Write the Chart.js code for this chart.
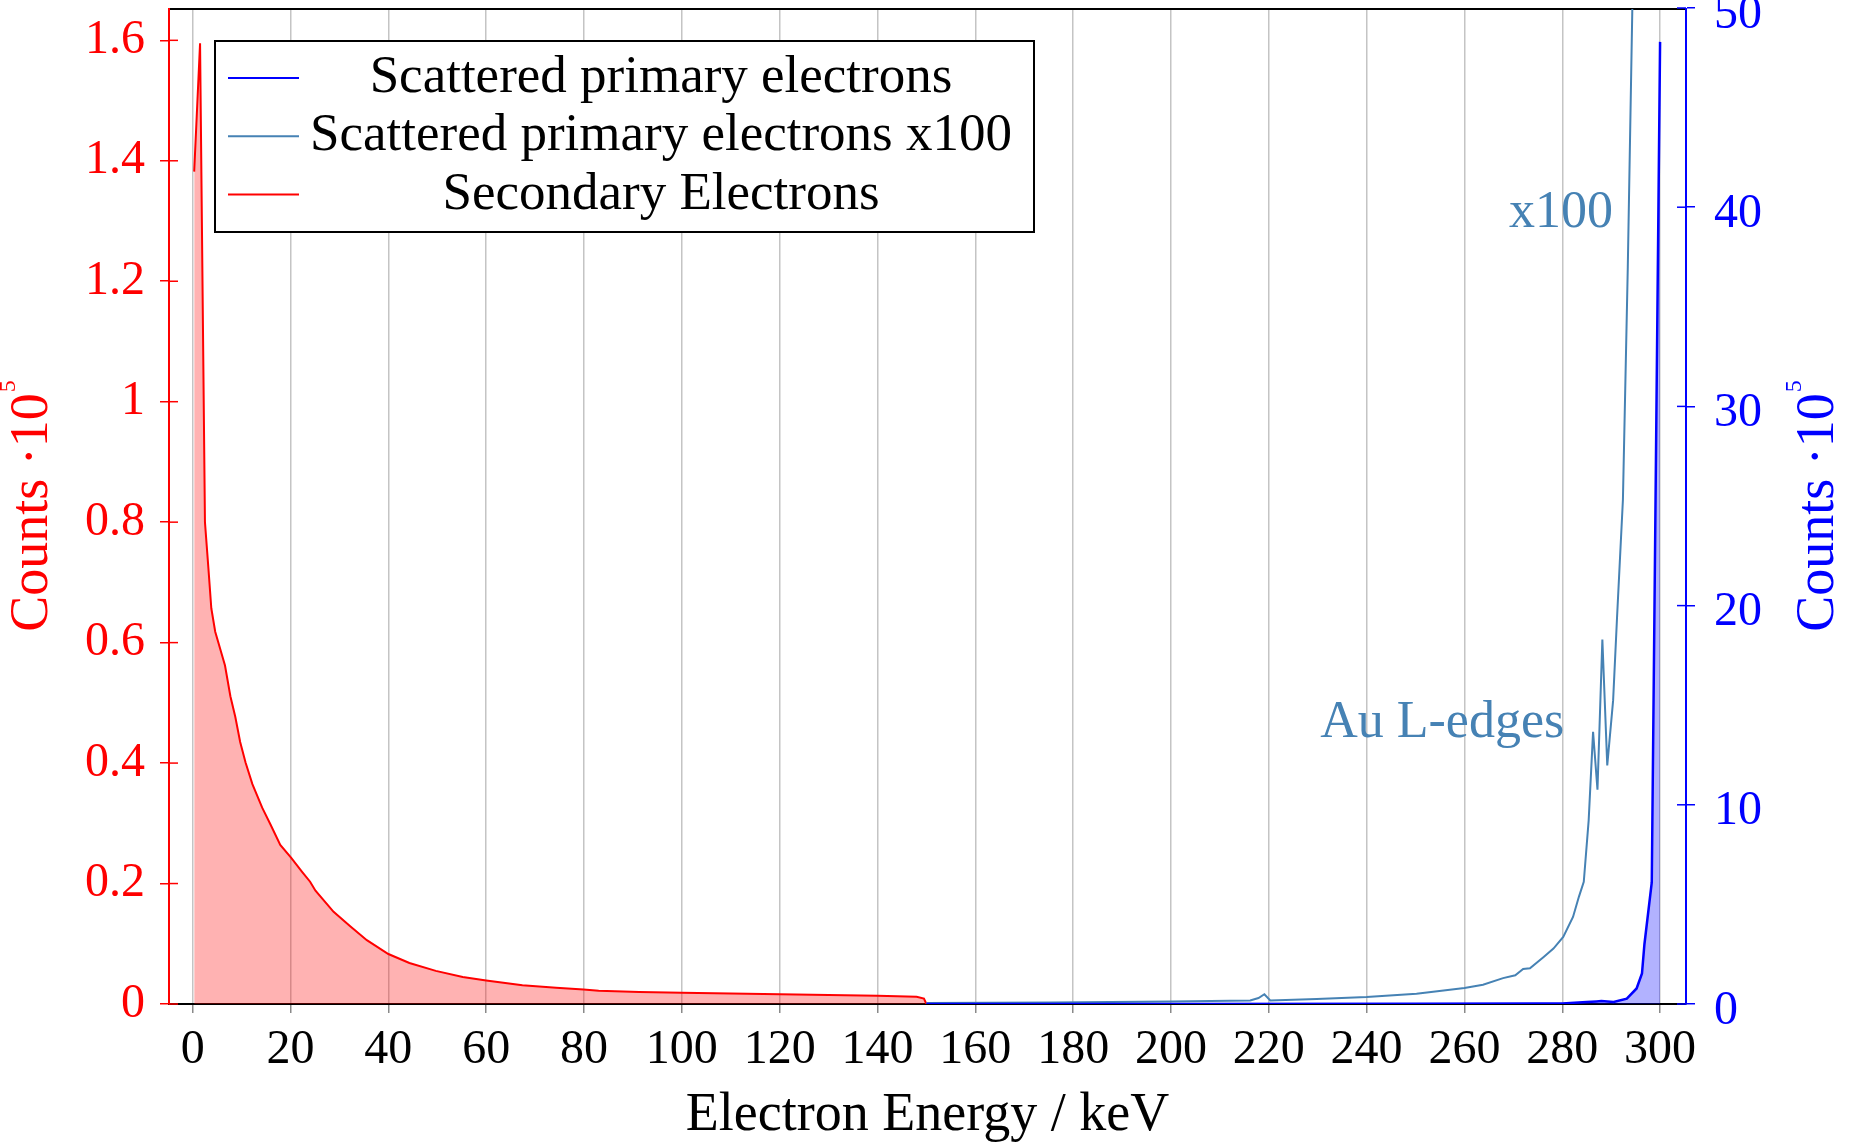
<!DOCTYPE html>
<html>
<head>
<meta charset="utf-8">
<script src="https://cdn.jsdelivr.net/npm/chart.js@4/dist/chart.umd.min.js"></script>
<style>
  html, body { margin: 0; padding: 0; background: #fff; }
  #chart { display: block; }
</style>
</head>
<body>
<canvas id="chart" width="1850" height="1144"></canvas>
<script>
// TICKS
const energyTicks = [0, 20, 40, 60, 80, 100, 120, 140, 160, 180, 200, 220, 240, 260, 280, 300];
const leftTicks = [0, 0.2, 0.4, 0.6, 0.8, 1, 1.2, 1.4, 1.6];
const rightTicks = [0, 10, 20, 30, 40, 50];

// SECONDARY ELECTRONS (keV, counts * 10^5, left axis)
const secEnergy = [0.3, 1.5, 2.5, 3.2, 3.8, 4.6, 6.6, 7.7, 8.7, 9.7, 10.8, 12.2, 14.2, 15.9, 17.9, 20.1,
  22.4, 24.0, 25.1, 28.8, 32.2, 35.6, 40, 44.3, 49.7, 55.2, 60, 67.4, 74.3, 79.9, 83, 91.3, 100, 120,
  140, 148, 149.5, 150];
const secCounts = [1.382, 1.595, 0.80, 0.724, 0.657, 0.618, 0.562, 0.511, 0.477, 0.435, 0.401, 0.365,
  0.326, 0.298, 0.264, 0.243, 0.219, 0.203, 0.188, 0.153, 0.129, 0.106, 0.083, 0.068, 0.055, 0.045,
  0.039, 0.031, 0.027, 0.024, 0.022, 0.020, 0.0185, 0.016, 0.0138, 0.012, 0.009, 0];

// SCATTERED PRIMARY ELECTRONS (right axis)
const primEnergy = [150, 200, 250, 275, 280, 285, 287, 288, 290.5, 293.2, 295.2, 296.3, 296.8, 298.3, 300];
const primCounts = [0, 0, 0.01, 0.02, 0.03, 0.1, 0.13, 0.15, 0.1, 0.27, 0.78, 1.53, 3.0, 6.1, 48.3];

// SCATTERED PRIMARY ELECTRONS x100 (right axis)
const x100Energy = [150, 175.3, 200, 216.2, 217.9, 219.1, 220.3, 229.8, 240, 250.2, 260, 263.8, 267.9,
  270.4, 272, 273.4, 276.2, 278.2, 280.2, 282.2, 283.4, 284.4, 285.4, 286.3, 287.2, 288.2, 289.2, 290.4,
  291.2, 292.4, 293.4, 294.4, 295.4];
const x100Counts = [0.05, 0.07, 0.13, 0.18, 0.30, 0.49, 0.18, 0.25, 0.35, 0.52, 0.80, 0.97, 1.3, 1.44,
  1.76, 1.79, 2.36, 2.78, 3.37, 4.37, 5.38, 6.13, 9.22, 13.66, 10.76, 18.3, 11.98, 15.24, 19.4, 25.3,
  37, 51, 70];

const FONT = "'Liberation Serif', 'Times New Roman', serif";
Chart.defaults.font.family = FONT;

const toPoints = (xs, ys) => xs.map((x, i) => ({ x: x, y: ys[i] }));
const fixTicks = list => scale => { scale.ticks = list.map(v => ({ value: v })); };
// fixed axis sizes, no extra room asked for the end labels
const fixSize = (w, h) => s => {
  if (w !== null) s.width = w;
  if (h !== null) s.height = h;
  s.paddingTop = 0; s.paddingBottom = 0; s.paddingLeft = 0; s.paddingRight = 0;
};

// chart.js only draws the outer half of a tick, add the inner half
const innerTicks = {
  id: 'innerTicks',
  afterDraw(chart) {
    const ctx = chart.ctx, area = chart.chartArea;
    ctx.save();
    ctx.lineWidth = 1.5;
    [['y', area.left, 1, 'red'], ['y2', area.right, -1, 'blue']].forEach(([id, x0, dir, col]) => {
      const s = chart.scales[id];
      ctx.strokeStyle = col;
      s.ticks.forEach(t => {
        const y = s.getPixelForValue(t.value);
        ctx.beginPath();
        ctx.moveTo(x0, y);
        ctx.lineTo(x0 + dir * 9, y);
        ctx.stroke();
      });
    });
    ctx.restore();
  }
};

// text labels inside the plot
const notes = {
  id: 'notes',
  afterDatasetsDraw(chart) {
    const { ctx, scales: { x, y2 } } = chart;
    ctx.save();
    ctx.fillStyle = 'steelblue';
    ctx.font = '52px ' + FONT;
    ctx.textAlign = 'right';
    ctx.textBaseline = 'middle';
    ctx.fillText('x100', x.getPixelForValue(290.4), y2.getPixelForValue(39.7));
    ctx.fillText('Au L-edges', x.getPixelForValue(280.4), y2.getPixelForValue(14.1));
    ctx.restore();
  }
};

// boxed legend, entries centred like the pgfplots one
const legendBox = {
  id: 'legendBox',
  afterDraw(chart) {
    const ctx = chart.ctx;
    ctx.save();
    ctx.fillStyle = '#fff';
    ctx.fillRect(215, 41, 819, 191);
    ctx.strokeStyle = '#000';
    ctx.lineWidth = 2;
    ctx.strokeRect(215, 41, 819, 191);
    chart.data.datasets.forEach((ds, i) => {
      const y = 78 + i * 58.3;
      ctx.strokeStyle = ds.borderColor;
      ctx.lineWidth = 2;
      ctx.beginPath();
      ctx.moveTo(228, y);
      ctx.lineTo(299, y);
      ctx.stroke();
      ctx.fillStyle = '#000';
      ctx.font = '53px ' + FONT;
      ctx.textAlign = 'center';
      ctx.textBaseline = 'middle';
      ctx.fillText(ds.label, 661, y);
    });
    ctx.restore();
  }
};

// rotated "Counts ·10^5" titles, both reading bottom to top
function countsTitle(ctx, x, yMid, color) {
  const main = 'Counts ·10';
  ctx.save();
  ctx.fillStyle = color;
  ctx.font = '54px ' + FONT;
  const w1 = ctx.measureText(main).width;
  ctx.font = '24px ' + FONT;
  const w2 = ctx.measureText('5').width;
  ctx.translate(x, yMid);
  ctx.rotate(-Math.PI / 2);
  ctx.textAlign = 'left';
  ctx.textBaseline = 'alphabetic';
  const start = -(w1 + w2) / 2;
  ctx.font = '54px ' + FONT;
  ctx.fillText(main, start, 0);
  ctx.font = '24px ' + FONT;
  ctx.fillText('5', start + w1 + 1, -32);
  ctx.restore();
}
const axisTitles = {
  id: 'axisTitles',
  afterDraw(chart) {
    const area = chart.chartArea;
    const mid = (area.top + area.bottom) / 2;
    countsTitle(chart.ctx, 47, mid, 'red');
    countsTitle(chart.ctx, 1833, mid, 'blue');
  }
};

new Chart(document.getElementById('chart'), {
  type: 'line',
  data: {
    datasets: [
      {
        label: 'Scattered primary electrons',
        data: toPoints(primEnergy, primCounts),
        yAxisID: 'y2',
        borderColor: 'blue',
        backgroundColor: 'rgba(0,0,255,0.3)',
        fill: 'origin',
        borderWidth: 2.5
      },
      {
        label: 'Scattered primary electrons x100',
        data: toPoints(x100Energy, x100Counts),
        yAxisID: 'y2',
        borderColor: 'steelblue',
        borderWidth: 2,
        fill: false
      },
      {
        label: 'Secondary Electrons',
        data: toPoints(secEnergy, secCounts),
        yAxisID: 'y',
        borderColor: 'red',
        backgroundColor: 'rgba(255,0,0,0.3)',
        fill: 'origin',
        borderWidth: 2
      }
    ]
  },
  options: {
    responsive: false,
    animation: false,
    devicePixelRatio: 1,
    layout: { padding: 0 },
    elements: { point: { radius: 0 }, line: { tension: 0 } },
    plugins: { legend: { display: false }, tooltip: { enabled: false } },
    scales: {
      x: {
        type: 'linear', position: 'bottom', min: -4.85, max: 305.3,
        afterBuildTicks: fixTicks(energyTicks),
        afterFit: fixSize(null, 140),
        grid: { color: '#c4c4c4', lineWidth: 1.5, tickLength: 9, tickColor: '#8a8a8a' },
        border: { color: '#000', width: 2 },
        ticks: { color: '#000', font: { size: 48, lineHeight: 1 }, padding: 13, autoSkip: false, maxRotation: 0 },
        title: {
          display: true, text: 'Electron Energy / keV', color: '#000',
          font: { size: 54, lineHeight: 1 }, padding: { top: 0, bottom: 1 }
        }
      },
      xTop: {
        type: 'linear', position: 'top', min: -4.85, max: 305.3,
        afterFit: fixSize(null, 9),
        grid: { drawOnChartArea: false, drawTicks: false },
        ticks: { display: false },
        border: { color: '#000', width: 2 }
      },
      y: {
        position: 'left', min: 0, max: 1.652,
        afterBuildTicks: fixTicks(leftTicks),
        afterFit: fixSize(169, null),
        grid: { drawOnChartArea: false, tickLength: 9, tickColor: 'red', lineWidth: 1.5 },
        border: { color: 'red', width: 2 },
        ticks: { color: 'red', font: { size: 48, lineHeight: 1 }, padding: 15, callback: v => String(v) }
      },
      y2: {
        position: 'right', min: 0, max: 49.95,
        afterBuildTicks: fixTicks(rightTicks),
        afterFit: fixSize(164, null),
        grid: { drawOnChartArea: false, tickLength: 9, tickColor: 'blue', lineWidth: 1.5 },
        border: { color: 'blue', width: 2 },
        ticks: { color: 'blue', font: { size: 48, lineHeight: 1 }, padding: 19, labelOffset: 7, callback: v => String(v) }
      }
    }
  },
  plugins: [innerTicks, notes, legendBox, axisTitles]
});
</script>
</body>
</html>
